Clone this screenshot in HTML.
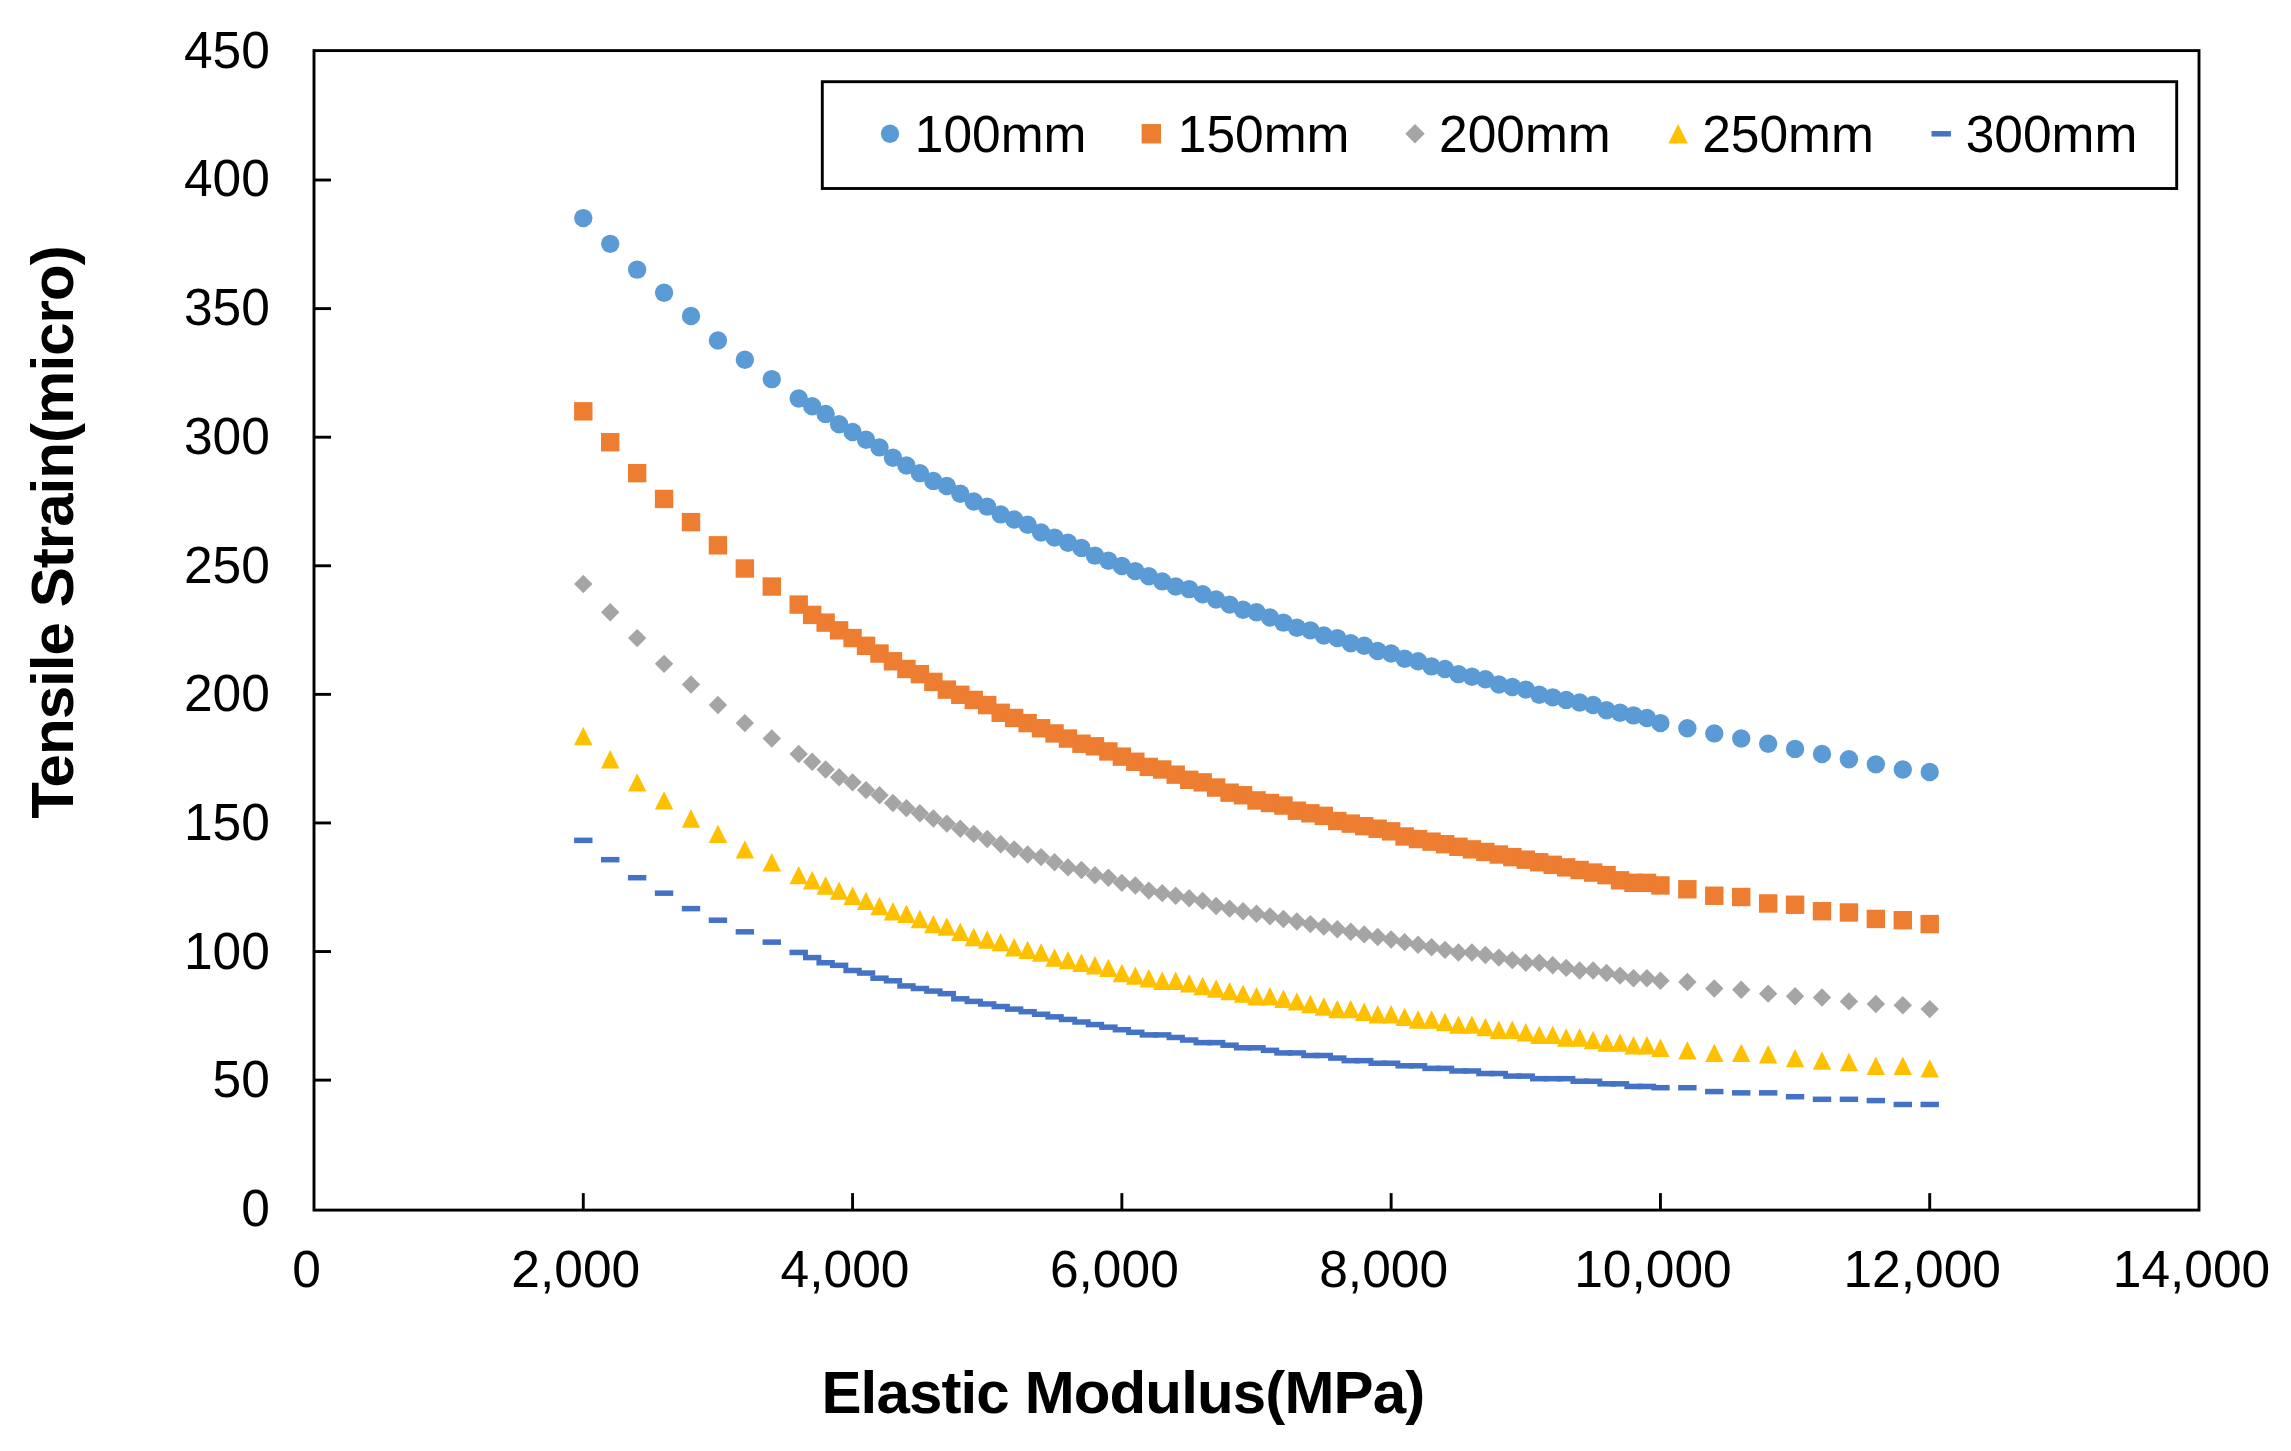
<!DOCTYPE html>
<html lang="en"><head><meta charset="utf-8"><title>Tensile Strain vs Elastic Modulus</title>
<style>html,body{margin:0;padding:0;background:#fff}body{width:2291px;height:1451px;overflow:hidden}svg{display:block;filter:blur(0.6px)}text{font-family:"Liberation Sans",Arial,Helvetica,sans-serif;fill:#000}.t{font-size:51.5px}.b{font-size:60px;font-weight:bold}</style></head><body>
<svg width="2291" height="1451" viewBox="0 0 2291 1451">
<rect x="0" y="0" width="2291" height="1451" fill="#fff"/>
<g fill="#5B9BD5">
<circle cx="583.29" cy="218.08" r="9.2"/><circle cx="610.21" cy="243.85" r="9.2"/><circle cx="637.14" cy="269.62" r="9.2"/><circle cx="664.07" cy="292.81" r="9.2"/><circle cx="691" cy="316" r="9.2"/><circle cx="717.93" cy="340.47" r="9.2"/><circle cx="744.86" cy="359.8" r="9.2"/><circle cx="771.79" cy="379.12" r="9.2"/><circle cx="798.71" cy="398.45" r="9.2"/><circle cx="812.18" cy="406.18" r="9.2"/><circle cx="825.64" cy="413.91" r="9.2"/><circle cx="839.11" cy="424.22" r="9.2"/><circle cx="852.57" cy="431.95" r="9.2"/><circle cx="866.04" cy="439.68" r="9.2"/><circle cx="879.5" cy="447.41" r="9.2"/><circle cx="892.96" cy="457.71" r="9.2"/><circle cx="906.43" cy="465.44" r="9.2"/><circle cx="919.89" cy="473.17" r="9.2"/><circle cx="933.36" cy="480.9" r="9.2"/><circle cx="946.82" cy="486.06" r="9.2"/><circle cx="960.29" cy="493.79" r="9.2"/><circle cx="973.75" cy="501.52" r="9.2"/><circle cx="987.21" cy="506.67" r="9.2"/><circle cx="1000.68" cy="514.4" r="9.2"/><circle cx="1014.14" cy="519.55" r="9.2"/><circle cx="1027.61" cy="524.71" r="9.2"/><circle cx="1041.07" cy="532.44" r="9.2"/><circle cx="1054.54" cy="537.59" r="9.2"/><circle cx="1068" cy="542.74" r="9.2"/><circle cx="1081.46" cy="547.9" r="9.2"/><circle cx="1094.93" cy="555.63" r="9.2"/><circle cx="1108.39" cy="560.78" r="9.2"/><circle cx="1121.86" cy="565.93" r="9.2"/><circle cx="1135.32" cy="571.09" r="9.2"/><circle cx="1148.79" cy="576.24" r="9.2"/><circle cx="1162.25" cy="581.39" r="9.2"/><circle cx="1175.71" cy="586.55" r="9.2"/><circle cx="1189.18" cy="589.12" r="9.2"/><circle cx="1202.64" cy="594.28" r="9.2"/><circle cx="1216.11" cy="599.43" r="9.2"/><circle cx="1229.57" cy="604.58" r="9.2"/><circle cx="1243.04" cy="609.74" r="9.2"/><circle cx="1256.5" cy="612.31" r="9.2"/><circle cx="1269.96" cy="617.47" r="9.2"/><circle cx="1283.43" cy="622.62" r="9.2"/><circle cx="1296.89" cy="627.77" r="9.2"/><circle cx="1310.36" cy="630.35" r="9.2"/><circle cx="1323.82" cy="635.5" r="9.2"/><circle cx="1337.29" cy="638.08" r="9.2"/><circle cx="1350.75" cy="643.23" r="9.2"/><circle cx="1364.21" cy="645.81" r="9.2"/><circle cx="1377.68" cy="650.96" r="9.2"/><circle cx="1391.14" cy="653.54" r="9.2"/><circle cx="1404.61" cy="658.69" r="9.2"/><circle cx="1418.07" cy="661.27" r="9.2"/><circle cx="1431.54" cy="666.42" r="9.2"/><circle cx="1445" cy="669" r="9.2"/><circle cx="1458.46" cy="674.15" r="9.2"/><circle cx="1471.93" cy="676.73" r="9.2"/><circle cx="1485.39" cy="679.31" r="9.2"/><circle cx="1498.86" cy="684.46" r="9.2"/><circle cx="1512.32" cy="687.04" r="9.2"/><circle cx="1525.79" cy="689.61" r="9.2"/><circle cx="1539.25" cy="694.77" r="9.2"/><circle cx="1552.71" cy="697.34" r="9.2"/><circle cx="1566.18" cy="699.92" r="9.2"/><circle cx="1579.64" cy="702.5" r="9.2"/><circle cx="1593.11" cy="705.07" r="9.2"/><circle cx="1606.57" cy="710.23" r="9.2"/><circle cx="1620.04" cy="712.8" r="9.2"/><circle cx="1633.5" cy="715.38" r="9.2"/><circle cx="1646.96" cy="717.96" r="9.2"/><circle cx="1660.43" cy="723.11" r="9.2"/><circle cx="1687.36" cy="728.26" r="9.2"/><circle cx="1714.29" cy="733.42" r="9.2"/><circle cx="1741.21" cy="738.57" r="9.2"/><circle cx="1768.14" cy="743.72" r="9.2"/><circle cx="1795.07" cy="748.88" r="9.2"/><circle cx="1822" cy="754.03" r="9.2"/><circle cx="1848.93" cy="759.18" r="9.2"/><circle cx="1875.86" cy="764.34" r="9.2"/><circle cx="1902.79" cy="769.49" r="9.2"/><circle cx="1929.71" cy="772.07" r="9.2"/>
</g>
<g fill="#ED7D31">
<rect x="574.09" y="402.13" width="18.4" height="18.4"/><rect x="601.01" y="433.05" width="18.4" height="18.4"/><rect x="627.94" y="463.97" width="18.4" height="18.4"/><rect x="654.87" y="489.74" width="18.4" height="18.4"/><rect x="681.8" y="512.93" width="18.4" height="18.4"/><rect x="708.73" y="536.12" width="18.4" height="18.4"/><rect x="735.66" y="559.31" width="18.4" height="18.4"/><rect x="762.59" y="577.35" width="18.4" height="18.4"/><rect x="789.51" y="595.38" width="18.4" height="18.4"/><rect x="802.98" y="605.69" width="18.4" height="18.4"/><rect x="816.44" y="613.42" width="18.4" height="18.4"/><rect x="829.91" y="621.15" width="18.4" height="18.4"/><rect x="843.37" y="628.88" width="18.4" height="18.4"/><rect x="856.84" y="636.61" width="18.4" height="18.4"/><rect x="870.3" y="644.34" width="18.4" height="18.4"/><rect x="883.76" y="652.07" width="18.4" height="18.4"/><rect x="897.23" y="659.8" width="18.4" height="18.4"/><rect x="910.69" y="664.95" width="18.4" height="18.4"/><rect x="924.16" y="672.68" width="18.4" height="18.4"/><rect x="937.62" y="680.41" width="18.4" height="18.4"/><rect x="951.09" y="685.57" width="18.4" height="18.4"/><rect x="964.55" y="690.72" width="18.4" height="18.4"/><rect x="978.01" y="695.87" width="18.4" height="18.4"/><rect x="991.48" y="703.6" width="18.4" height="18.4"/><rect x="1004.94" y="708.76" width="18.4" height="18.4"/><rect x="1018.41" y="713.91" width="18.4" height="18.4"/><rect x="1031.87" y="719.06" width="18.4" height="18.4"/><rect x="1045.34" y="724.22" width="18.4" height="18.4"/><rect x="1058.8" y="729.37" width="18.4" height="18.4"/><rect x="1072.26" y="734.52" width="18.4" height="18.4"/><rect x="1085.73" y="737.1" width="18.4" height="18.4"/><rect x="1099.19" y="742.25" width="18.4" height="18.4"/><rect x="1112.66" y="747.41" width="18.4" height="18.4"/><rect x="1126.12" y="752.56" width="18.4" height="18.4"/><rect x="1139.59" y="757.71" width="18.4" height="18.4"/><rect x="1153.05" y="760.29" width="18.4" height="18.4"/><rect x="1166.51" y="765.44" width="18.4" height="18.4"/><rect x="1179.98" y="770.6" width="18.4" height="18.4"/><rect x="1193.44" y="773.17" width="18.4" height="18.4"/><rect x="1206.91" y="778.33" width="18.4" height="18.4"/><rect x="1220.37" y="783.48" width="18.4" height="18.4"/><rect x="1233.84" y="786.06" width="18.4" height="18.4"/><rect x="1247.3" y="791.21" width="18.4" height="18.4"/><rect x="1260.76" y="793.79" width="18.4" height="18.4"/><rect x="1274.23" y="796.36" width="18.4" height="18.4"/><rect x="1287.69" y="801.52" width="18.4" height="18.4"/><rect x="1301.16" y="804.09" width="18.4" height="18.4"/><rect x="1314.62" y="806.67" width="18.4" height="18.4"/><rect x="1328.09" y="811.82" width="18.4" height="18.4"/><rect x="1341.55" y="814.4" width="18.4" height="18.4"/><rect x="1355.01" y="816.98" width="18.4" height="18.4"/><rect x="1368.48" y="819.55" width="18.4" height="18.4"/><rect x="1381.94" y="822.13" width="18.4" height="18.4"/><rect x="1395.41" y="827.28" width="18.4" height="18.4"/><rect x="1408.87" y="829.86" width="18.4" height="18.4"/><rect x="1422.34" y="832.44" width="18.4" height="18.4"/><rect x="1435.8" y="835.01" width="18.4" height="18.4"/><rect x="1449.26" y="837.59" width="18.4" height="18.4"/><rect x="1462.73" y="840.17" width="18.4" height="18.4"/><rect x="1476.19" y="842.74" width="18.4" height="18.4"/><rect x="1489.66" y="845.32" width="18.4" height="18.4"/><rect x="1503.12" y="847.9" width="18.4" height="18.4"/><rect x="1516.59" y="850.47" width="18.4" height="18.4"/><rect x="1530.05" y="853.05" width="18.4" height="18.4"/><rect x="1543.51" y="855.63" width="18.4" height="18.4"/><rect x="1556.98" y="858.2" width="18.4" height="18.4"/><rect x="1570.44" y="860.78" width="18.4" height="18.4"/><rect x="1583.91" y="863.36" width="18.4" height="18.4"/><rect x="1597.37" y="865.93" width="18.4" height="18.4"/><rect x="1610.84" y="871.09" width="18.4" height="18.4"/><rect x="1624.3" y="873.66" width="18.4" height="18.4"/><rect x="1637.76" y="873.66" width="18.4" height="18.4"/><rect x="1651.23" y="876.24" width="18.4" height="18.4"/><rect x="1678.16" y="880.1" width="18.4" height="18.4"/><rect x="1705.09" y="886.55" width="18.4" height="18.4"/><rect x="1732.01" y="887.83" width="18.4" height="18.4"/><rect x="1758.94" y="894.28" width="18.4" height="18.4"/><rect x="1785.87" y="895.56" width="18.4" height="18.4"/><rect x="1812.8" y="902.01" width="18.4" height="18.4"/><rect x="1839.73" y="903.29" width="18.4" height="18.4"/><rect x="1866.66" y="909.74" width="18.4" height="18.4"/><rect x="1893.59" y="911.02" width="18.4" height="18.4"/><rect x="1920.51" y="914.89" width="18.4" height="18.4"/>
</g>
<g fill="#A5A5A5">
<path d="M583.29 574.77L592.49 583.97L583.29 593.17L574.09 583.97Z"/><path d="M610.21 603.11L619.41 612.31L610.21 621.51L601.01 612.31Z"/><path d="M637.14 628.88L646.34 638.08L637.14 647.28L627.94 638.08Z"/><path d="M664.07 654.65L673.27 663.85L664.07 673.05L654.87 663.85Z"/><path d="M691 675.26L700.2 684.46L691 693.66L681.8 684.46Z"/><path d="M717.93 695.87L727.13 705.07L717.93 714.27L708.73 705.07Z"/><path d="M744.86 713.91L754.06 723.11L744.86 732.31L735.66 723.11Z"/><path d="M771.79 729.37L780.99 738.57L771.79 747.77L762.59 738.57Z"/><path d="M798.71 744.83L807.91 754.03L798.71 763.23L789.51 754.03Z"/><path d="M812.18 752.56L821.38 761.76L812.18 770.96L802.98 761.76Z"/><path d="M825.64 760.29L834.84 769.49L825.64 778.69L816.44 769.49Z"/><path d="M839.11 768.02L848.31 777.22L839.11 786.42L829.91 777.22Z"/><path d="M852.57 773.17L861.77 782.37L852.57 791.57L843.37 782.37Z"/><path d="M866.04 780.9L875.24 790.1L866.04 799.3L856.84 790.1Z"/><path d="M879.5 786.06L888.7 795.26L879.5 804.46L870.3 795.26Z"/><path d="M892.96 793.79L902.16 802.99L892.96 812.19L883.76 802.99Z"/><path d="M906.43 798.94L915.63 808.14L906.43 817.34L897.23 808.14Z"/><path d="M919.89 804.09L929.09 813.29L919.89 822.49L910.69 813.29Z"/><path d="M933.36 809.25L942.56 818.45L933.36 827.65L924.16 818.45Z"/><path d="M946.82 814.4L956.02 823.6L946.82 832.8L937.62 823.6Z"/><path d="M960.29 819.55L969.49 828.75L960.29 837.95L951.09 828.75Z"/><path d="M973.75 824.71L982.95 833.91L973.75 843.11L964.55 833.91Z"/><path d="M987.21 829.86L996.41 839.06L987.21 848.26L978.01 839.06Z"/><path d="M1000.68 835.01L1009.88 844.21L1000.68 853.41L991.48 844.21Z"/><path d="M1014.14 840.17L1023.34 849.37L1014.14 858.57L1004.94 849.37Z"/><path d="M1027.61 845.32L1036.81 854.52L1027.61 863.72L1018.41 854.52Z"/><path d="M1041.07 847.9L1050.27 857.1L1041.07 866.3L1031.87 857.1Z"/><path d="M1054.54 853.05L1063.74 862.25L1054.54 871.45L1045.34 862.25Z"/><path d="M1068 858.2L1077.2 867.4L1068 876.6L1058.8 867.4Z"/><path d="M1081.46 860.78L1090.66 869.98L1081.46 879.18L1072.26 869.98Z"/><path d="M1094.93 865.93L1104.13 875.13L1094.93 884.33L1085.73 875.13Z"/><path d="M1108.39 868.51L1117.59 877.71L1108.39 886.91L1099.19 877.71Z"/><path d="M1121.86 873.66L1131.06 882.86L1121.86 892.06L1112.66 882.86Z"/><path d="M1135.32 876.24L1144.52 885.44L1135.32 894.64L1126.12 885.44Z"/><path d="M1148.79 881.39L1157.99 890.59L1148.79 899.79L1139.59 890.59Z"/><path d="M1162.25 883.97L1171.45 893.17L1162.25 902.37L1153.05 893.17Z"/><path d="M1175.71 886.55L1184.91 895.75L1175.71 904.95L1166.51 895.75Z"/><path d="M1189.18 889.12L1198.38 898.32L1189.18 907.52L1179.98 898.32Z"/><path d="M1202.64 891.7L1211.84 900.9L1202.64 910.1L1193.44 900.9Z"/><path d="M1216.11 896.85L1225.31 906.05L1216.11 915.25L1206.91 906.05Z"/><path d="M1229.57 899.43L1238.77 908.63L1229.57 917.83L1220.37 908.63Z"/><path d="M1243.04 902.01L1252.24 911.21L1243.04 920.41L1233.84 911.21Z"/><path d="M1256.5 904.58L1265.7 913.78L1256.5 922.98L1247.3 913.78Z"/><path d="M1269.96 907.16L1279.16 916.36L1269.96 925.56L1260.76 916.36Z"/><path d="M1283.43 909.74L1292.63 918.94L1283.43 928.14L1274.23 918.94Z"/><path d="M1296.89 912.31L1306.09 921.51L1296.89 930.71L1287.69 921.51Z"/><path d="M1310.36 914.89L1319.56 924.09L1310.36 933.29L1301.16 924.09Z"/><path d="M1323.82 917.47L1333.02 926.67L1323.82 935.87L1314.62 926.67Z"/><path d="M1337.29 920.04L1346.49 929.24L1337.29 938.44L1328.09 929.24Z"/><path d="M1350.75 922.62L1359.95 931.82L1350.75 941.02L1341.55 931.82Z"/><path d="M1364.21 925.2L1373.41 934.4L1364.21 943.6L1355.01 934.4Z"/><path d="M1377.68 927.77L1386.88 936.97L1377.68 946.17L1368.48 936.97Z"/><path d="M1391.14 930.35L1400.34 939.55L1391.14 948.75L1381.94 939.55Z"/><path d="M1404.61 932.93L1413.81 942.13L1404.61 951.33L1395.41 942.13Z"/><path d="M1418.07 935.5L1427.27 944.7L1418.07 953.9L1408.87 944.7Z"/><path d="M1431.54 938.08L1440.74 947.28L1431.54 956.48L1422.34 947.28Z"/><path d="M1445 940.66L1454.2 949.86L1445 959.06L1435.8 949.86Z"/><path d="M1458.46 943.23L1467.66 952.43L1458.46 961.63L1449.26 952.43Z"/><path d="M1471.93 943.23L1481.13 952.43L1471.93 961.63L1462.73 952.43Z"/><path d="M1485.39 945.81L1494.59 955.01L1485.39 964.21L1476.19 955.01Z"/><path d="M1498.86 948.39L1508.06 957.59L1498.86 966.79L1489.66 957.59Z"/><path d="M1512.32 950.96L1521.52 960.16L1512.32 969.36L1503.12 960.16Z"/><path d="M1525.79 953.54L1534.99 962.74L1525.79 971.94L1516.59 962.74Z"/><path d="M1539.25 953.54L1548.45 962.74L1539.25 971.94L1530.05 962.74Z"/><path d="M1552.71 956.12L1561.91 965.32L1552.71 974.52L1543.51 965.32Z"/><path d="M1566.18 958.69L1575.38 967.89L1566.18 977.09L1556.98 967.89Z"/><path d="M1579.64 961.27L1588.84 970.47L1579.64 979.67L1570.44 970.47Z"/><path d="M1593.11 961.27L1602.31 970.47L1593.11 979.67L1583.91 970.47Z"/><path d="M1606.57 963.85L1615.77 973.05L1606.57 982.25L1597.37 973.05Z"/><path d="M1620.04 966.42L1629.24 975.62L1620.04 984.82L1610.84 975.62Z"/><path d="M1633.5 969L1642.7 978.2L1633.5 987.4L1624.3 978.2Z"/><path d="M1646.96 969L1656.16 978.2L1646.96 987.4L1637.76 978.2Z"/><path d="M1660.43 971.58L1669.63 980.78L1660.43 989.98L1651.23 980.78Z"/><path d="M1687.36 972.86L1696.56 982.06L1687.36 991.26L1678.16 982.06Z"/><path d="M1714.29 979.31L1723.49 988.51L1714.29 997.71L1705.09 988.51Z"/><path d="M1741.21 980.59L1750.41 989.79L1741.21 998.99L1732.01 989.79Z"/><path d="M1768.14 984.46L1777.34 993.66L1768.14 1002.86L1758.94 993.66Z"/><path d="M1795.07 987.04L1804.27 996.24L1795.07 1005.44L1785.87 996.24Z"/><path d="M1822 988.32L1831.2 997.52L1822 1006.72L1812.8 997.52Z"/><path d="M1848.93 992.19L1858.13 1001.39L1848.93 1010.59L1839.73 1001.39Z"/><path d="M1875.86 994.77L1885.06 1003.97L1875.86 1013.17L1866.66 1003.97Z"/><path d="M1902.79 996.05L1911.99 1005.25L1902.79 1014.45L1893.59 1005.25Z"/><path d="M1929.71 999.92L1938.91 1009.12L1929.71 1018.32L1920.51 1009.12Z"/>
</g>
<g fill="#FFC000">
<path d="M583.29 726.79L592.49 745.19L574.09 745.19Z"/><path d="M610.21 749.98L619.41 768.38L601.01 768.38Z"/><path d="M637.14 773.17L646.34 791.57L627.94 791.57Z"/><path d="M664.07 791.21L673.27 809.61L654.87 809.61Z"/><path d="M691 809.25L700.2 827.65L681.8 827.65Z"/><path d="M717.93 824.71L727.13 843.11L708.73 843.11Z"/><path d="M744.86 840.17L754.06 858.57L735.66 858.57Z"/><path d="M771.79 853.05L780.99 871.45L762.59 871.45Z"/><path d="M798.71 865.93L807.91 884.33L789.51 884.33Z"/><path d="M812.18 871.09L821.38 889.49L802.98 889.49Z"/><path d="M825.64 876.24L834.84 894.64L816.44 894.64Z"/><path d="M839.11 881.39L848.31 899.79L829.91 899.79Z"/><path d="M852.57 886.55L861.77 904.95L843.37 904.95Z"/><path d="M866.04 891.7L875.24 910.1L856.84 910.1Z"/><path d="M879.5 896.85L888.7 915.25L870.3 915.25Z"/><path d="M892.96 902.01L902.16 920.41L883.76 920.41Z"/><path d="M906.43 904.58L915.63 922.98L897.23 922.98Z"/><path d="M919.89 909.74L929.09 928.14L910.69 928.14Z"/><path d="M933.36 914.89L942.56 933.29L924.16 933.29Z"/><path d="M946.82 917.47L956.02 935.87L937.62 935.87Z"/><path d="M960.29 922.62L969.49 941.02L951.09 941.02Z"/><path d="M973.75 927.77L982.95 946.17L964.55 946.17Z"/><path d="M987.21 930.35L996.41 948.75L978.01 948.75Z"/><path d="M1000.68 932.93L1009.88 951.33L991.48 951.33Z"/><path d="M1014.14 938.08L1023.34 956.48L1004.94 956.48Z"/><path d="M1027.61 940.66L1036.81 959.06L1018.41 959.06Z"/><path d="M1041.07 943.23L1050.27 961.63L1031.87 961.63Z"/><path d="M1054.54 948.39L1063.74 966.79L1045.34 966.79Z"/><path d="M1068 950.96L1077.2 969.36L1058.8 969.36Z"/><path d="M1081.46 953.54L1090.66 971.94L1072.26 971.94Z"/><path d="M1094.93 956.12L1104.13 974.52L1085.73 974.52Z"/><path d="M1108.39 958.69L1117.59 977.09L1099.19 977.09Z"/><path d="M1121.86 963.85L1131.06 982.25L1112.66 982.25Z"/><path d="M1135.32 966.42L1144.52 984.82L1126.12 984.82Z"/><path d="M1148.79 969L1157.99 987.4L1139.59 987.4Z"/><path d="M1162.25 971.58L1171.45 989.98L1153.05 989.98Z"/><path d="M1175.71 971.58L1184.91 989.98L1166.51 989.98Z"/><path d="M1189.18 974.15L1198.38 992.55L1179.98 992.55Z"/><path d="M1202.64 976.73L1211.84 995.13L1193.44 995.13Z"/><path d="M1216.11 979.31L1225.31 997.71L1206.91 997.71Z"/><path d="M1229.57 981.88L1238.77 1000.28L1220.37 1000.28Z"/><path d="M1243.04 984.46L1252.24 1002.86L1233.84 1002.86Z"/><path d="M1256.5 987.04L1265.7 1005.44L1247.3 1005.44Z"/><path d="M1269.96 987.04L1279.16 1005.44L1260.76 1005.44Z"/><path d="M1283.43 989.61L1292.63 1008.01L1274.23 1008.01Z"/><path d="M1296.89 992.19L1306.09 1010.59L1287.69 1010.59Z"/><path d="M1310.36 994.77L1319.56 1013.17L1301.16 1013.17Z"/><path d="M1323.82 997.34L1333.02 1015.74L1314.62 1015.74Z"/><path d="M1337.29 999.92L1346.49 1018.32L1328.09 1018.32Z"/><path d="M1350.75 999.92L1359.95 1018.32L1341.55 1018.32Z"/><path d="M1364.21 1002.5L1373.41 1020.9L1355.01 1020.9Z"/><path d="M1377.68 1005.07L1386.88 1023.47L1368.48 1023.47Z"/><path d="M1391.14 1005.07L1400.34 1023.47L1381.94 1023.47Z"/><path d="M1404.61 1007.65L1413.81 1026.05L1395.41 1026.05Z"/><path d="M1418.07 1010.23L1427.27 1028.63L1408.87 1028.63Z"/><path d="M1431.54 1010.23L1440.74 1028.63L1422.34 1028.63Z"/><path d="M1445 1012.8L1454.2 1031.2L1435.8 1031.2Z"/><path d="M1458.46 1015.38L1467.66 1033.78L1449.26 1033.78Z"/><path d="M1471.93 1015.38L1481.13 1033.78L1462.73 1033.78Z"/><path d="M1485.39 1017.96L1494.59 1036.36L1476.19 1036.36Z"/><path d="M1498.86 1020.53L1508.06 1038.93L1489.66 1038.93Z"/><path d="M1512.32 1020.53L1521.52 1038.93L1503.12 1038.93Z"/><path d="M1525.79 1023.11L1534.99 1041.51L1516.59 1041.51Z"/><path d="M1539.25 1025.69L1548.45 1044.09L1530.05 1044.09Z"/><path d="M1552.71 1025.69L1561.91 1044.09L1543.51 1044.09Z"/><path d="M1566.18 1028.26L1575.38 1046.66L1556.98 1046.66Z"/><path d="M1579.64 1028.26L1588.84 1046.66L1570.44 1046.66Z"/><path d="M1593.11 1030.84L1602.31 1049.24L1583.91 1049.24Z"/><path d="M1606.57 1033.42L1615.77 1051.82L1597.37 1051.82Z"/><path d="M1620.04 1033.42L1629.24 1051.82L1610.84 1051.82Z"/><path d="M1633.5 1035.99L1642.7 1054.39L1624.3 1054.39Z"/><path d="M1646.96 1035.99L1656.16 1054.39L1637.76 1054.39Z"/><path d="M1660.43 1038.57L1669.63 1056.97L1651.23 1056.97Z"/><path d="M1687.36 1041.15L1696.56 1059.55L1678.16 1059.55Z"/><path d="M1714.29 1043.72L1723.49 1062.12L1705.09 1062.12Z"/><path d="M1741.21 1043.72L1750.41 1062.12L1732.01 1062.12Z"/><path d="M1768.14 1045.01L1777.34 1063.41L1758.94 1063.41Z"/><path d="M1795.07 1048.88L1804.27 1067.28L1785.87 1067.28Z"/><path d="M1822 1051.45L1831.2 1069.85L1812.8 1069.85Z"/><path d="M1848.93 1052.74L1858.13 1071.14L1839.73 1071.14Z"/><path d="M1875.86 1056.61L1885.06 1075.01L1866.66 1075.01Z"/><path d="M1902.79 1056.61L1911.99 1075.01L1893.59 1075.01Z"/><path d="M1929.71 1059.18L1938.91 1077.58L1920.51 1077.58Z"/>
</g>
<g fill="#4472C4">
<rect x="574.09" y="837.6" width="18.4" height="5.5"/><rect x="601.01" y="856.92" width="18.4" height="5.5"/><rect x="627.94" y="874.96" width="18.4" height="5.5"/><rect x="654.87" y="890.42" width="18.4" height="5.5"/><rect x="681.8" y="905.88" width="18.4" height="5.5"/><rect x="708.73" y="917.47" width="18.4" height="5.5"/><rect x="735.66" y="929.07" width="18.4" height="5.5"/><rect x="762.59" y="939.38" width="18.4" height="5.5"/><rect x="789.51" y="949.68" width="18.4" height="5.5"/><rect x="802.98" y="954.84" width="18.4" height="5.5"/><rect x="816.44" y="959.99" width="18.4" height="5.5"/><rect x="829.91" y="962.57" width="18.4" height="5.5"/><rect x="843.37" y="967.72" width="18.4" height="5.5"/><rect x="856.84" y="970.3" width="18.4" height="5.5"/><rect x="870.3" y="975.45" width="18.4" height="5.5"/><rect x="883.76" y="978.03" width="18.4" height="5.5"/><rect x="897.23" y="983.18" width="18.4" height="5.5"/><rect x="910.69" y="985.76" width="18.4" height="5.5"/><rect x="924.16" y="988.33" width="18.4" height="5.5"/><rect x="937.62" y="990.91" width="18.4" height="5.5"/><rect x="951.09" y="996.06" width="18.4" height="5.5"/><rect x="964.55" y="998.64" width="18.4" height="5.5"/><rect x="978.01" y="1001.22" width="18.4" height="5.5"/><rect x="991.48" y="1003.79" width="18.4" height="5.5"/><rect x="1004.94" y="1006.37" width="18.4" height="5.5"/><rect x="1018.41" y="1008.95" width="18.4" height="5.5"/><rect x="1031.87" y="1011.52" width="18.4" height="5.5"/><rect x="1045.34" y="1014.1" width="18.4" height="5.5"/><rect x="1058.8" y="1016.68" width="18.4" height="5.5"/><rect x="1072.26" y="1019.25" width="18.4" height="5.5"/><rect x="1085.73" y="1021.83" width="18.4" height="5.5"/><rect x="1099.19" y="1024.41" width="18.4" height="5.5"/><rect x="1112.66" y="1026.98" width="18.4" height="5.5"/><rect x="1126.12" y="1029.56" width="18.4" height="5.5"/><rect x="1139.59" y="1032.14" width="18.4" height="5.5"/><rect x="1153.05" y="1032.14" width="18.4" height="5.5"/><rect x="1166.51" y="1034.71" width="18.4" height="5.5"/><rect x="1179.98" y="1037.29" width="18.4" height="5.5"/><rect x="1193.44" y="1039.87" width="18.4" height="5.5"/><rect x="1206.91" y="1039.87" width="18.4" height="5.5"/><rect x="1220.37" y="1042.44" width="18.4" height="5.5"/><rect x="1233.84" y="1045.02" width="18.4" height="5.5"/><rect x="1247.3" y="1045.02" width="18.4" height="5.5"/><rect x="1260.76" y="1047.6" width="18.4" height="5.5"/><rect x="1274.23" y="1050.17" width="18.4" height="5.5"/><rect x="1287.69" y="1050.17" width="18.4" height="5.5"/><rect x="1301.16" y="1052.75" width="18.4" height="5.5"/><rect x="1314.62" y="1052.75" width="18.4" height="5.5"/><rect x="1328.09" y="1055.33" width="18.4" height="5.5"/><rect x="1341.55" y="1057.9" width="18.4" height="5.5"/><rect x="1355.01" y="1057.9" width="18.4" height="5.5"/><rect x="1368.48" y="1060.48" width="18.4" height="5.5"/><rect x="1381.94" y="1060.48" width="18.4" height="5.5"/><rect x="1395.41" y="1063.06" width="18.4" height="5.5"/><rect x="1408.87" y="1063.06" width="18.4" height="5.5"/><rect x="1422.34" y="1065.63" width="18.4" height="5.5"/><rect x="1435.8" y="1065.63" width="18.4" height="5.5"/><rect x="1449.26" y="1068.21" width="18.4" height="5.5"/><rect x="1462.73" y="1068.21" width="18.4" height="5.5"/><rect x="1476.19" y="1070.79" width="18.4" height="5.5"/><rect x="1489.66" y="1070.79" width="18.4" height="5.5"/><rect x="1503.12" y="1073.36" width="18.4" height="5.5"/><rect x="1516.59" y="1073.36" width="18.4" height="5.5"/><rect x="1530.05" y="1075.94" width="18.4" height="5.5"/><rect x="1543.51" y="1075.94" width="18.4" height="5.5"/><rect x="1556.98" y="1075.94" width="18.4" height="5.5"/><rect x="1570.44" y="1078.52" width="18.4" height="5.5"/><rect x="1583.91" y="1078.52" width="18.4" height="5.5"/><rect x="1597.37" y="1081.09" width="18.4" height="5.5"/><rect x="1610.84" y="1081.09" width="18.4" height="5.5"/><rect x="1624.3" y="1083.67" width="18.4" height="5.5"/><rect x="1637.76" y="1083.67" width="18.4" height="5.5"/><rect x="1651.23" y="1084.96" width="18.4" height="5.5"/><rect x="1678.16" y="1084.96" width="18.4" height="5.5"/><rect x="1705.09" y="1088.82" width="18.4" height="5.5"/><rect x="1732.01" y="1090.11" width="18.4" height="5.5"/><rect x="1758.94" y="1090.11" width="18.4" height="5.5"/><rect x="1785.87" y="1093.98" width="18.4" height="5.5"/><rect x="1812.8" y="1096.55" width="18.4" height="5.5"/><rect x="1839.73" y="1096.55" width="18.4" height="5.5"/><rect x="1866.66" y="1097.84" width="18.4" height="5.5"/><rect x="1893.59" y="1101.71" width="18.4" height="5.5"/><rect x="1920.51" y="1101.71" width="18.4" height="5.5"/>
</g>
<g stroke="#000" stroke-width="2.9" fill="none">
<rect x="314" y="50.6" width="1885" height="1159.5"/>
<line x1="314" y1="1080.12" x2="331" y2="1080.12"/>
<line x1="314" y1="951.53" x2="331" y2="951.53"/>
<line x1="314" y1="822.95" x2="331" y2="822.95"/>
<line x1="314" y1="694.36" x2="331" y2="694.36"/>
<line x1="314" y1="565.78" x2="331" y2="565.78"/>
<line x1="314" y1="437.19" x2="331" y2="437.19"/>
<line x1="314" y1="308.61" x2="331" y2="308.61"/>
<line x1="314" y1="180.02" x2="331" y2="180.02"/>
<line x1="583.29" y1="1210.1" x2="583.29" y2="1193.1"/>
<line x1="852.57" y1="1210.1" x2="852.57" y2="1193.1"/>
<line x1="1121.86" y1="1210.1" x2="1121.86" y2="1193.1"/>
<line x1="1391.14" y1="1210.1" x2="1391.14" y2="1193.1"/>
<line x1="1660.43" y1="1210.1" x2="1660.43" y2="1193.1"/>
<line x1="1929.71" y1="1210.1" x2="1929.71" y2="1193.1"/>
<rect x="822.3" y="81.7" width="1354.4" height="106.8" fill="#fff"/>
</g>
<g class="t" text-anchor="end">
<text x="269.9" y="1226.2">0</text>
<text x="269.9" y="1097.49">50</text>
<text x="269.9" y="968.77">100</text>
<text x="269.9" y="840.06">150</text>
<text x="269.9" y="711.34">200</text>
<text x="269.9" y="582.62">250</text>
<text x="269.9" y="453.91">300</text>
<text x="269.9" y="325.2">350</text>
<text x="269.9" y="196.48">400</text>
<text x="269.9" y="67.77">450</text>
</g><g class="t" text-anchor="middle">
<text x="306.5" y="1287">0</text>
<text x="575.79" y="1287">2,000</text>
<text x="845.07" y="1287">4,000</text>
<text x="1114.36" y="1287">6,000</text>
<text x="1383.64" y="1287">8,000</text>
<text x="1652.93" y="1287">10,000</text>
<text x="1922.21" y="1287">12,000</text>
<text x="2191.5" y="1287">14,000</text>
</g>
<text class="b" text-anchor="middle" x="1123.3" y="1412.5" textLength="603.8" lengthAdjust="spacing">Elastic Modulus(MPa)</text>
<text class="b" text-anchor="middle" transform="translate(73 532) rotate(-90)" textLength="573.4" lengthAdjust="spacing">Tensile Strain(micro)</text>
<g fill="#5B9BD5"><circle cx="890" cy="133.8" r="9.2"/></g>
<text class="t" x="914.75" y="151.5">100mm</text>
<g fill="#ED7D31"><rect x="1141.6" y="124.1" width="19.4" height="19.4"/></g>
<text class="t" x="1177.8" y="151.5">150mm</text>
<g fill="#A5A5A5"><path d="M1415 124.1L1424.7 133.8L1415 143.5L1405.3 133.8Z"/></g>
<text class="t" x="1439" y="151.5">200mm</text>
<g fill="#FFC000"><path d="M1678.1 124.1L1687.8 143.5L1668.4 143.5Z"/></g>
<text class="t" x="1702.15" y="151.5">250mm</text>
<g fill="#4472C4"><rect x="1931.5" y="131.05" width="19.4" height="5.5"/></g>
<text class="t" x="1965.65" y="151.5">300mm</text>
</svg></body></html>
